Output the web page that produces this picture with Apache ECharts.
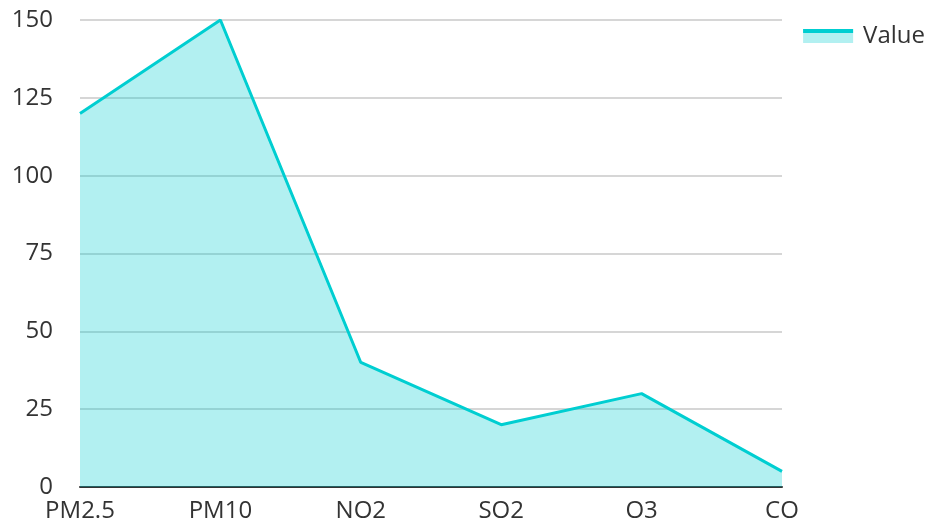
<!DOCTYPE html>
<html>
<head>
<meta charset="utf-8">
<script src="https://cdn.jsdelivr.net/npm/echarts@6/dist/echarts.min.js"></script>
<style>
  html, body { margin: 0; padding: 0; background: #fff; }
  #chart { width: 930px; height: 526px; }
</style>
</head>
<body>
<div id="chart"></div>
<script>
const pollutants = ['PM2.5', 'PM10', 'NO2', 'SO2', 'O3', 'CO'];
const values = [120, 150, 40, 20, 30, 5];

const chart = echarts.init(document.getElementById('chart'));
const lineColor = '#00CED1';
const areaColor = 'rgba(0,206,209,0.3)';

chart.setOption({
  animation: false,
  textStyle: { fontFamily: 'Open Sans' },
  legend: [{
    // area swatch + label
    right: 0,
    top: 19,
    itemWidth: 50,
    itemHeight: 14,
    icon: 'rect',
    itemStyle: { color: areaColor },
    textStyle: { fontSize: 24, color: '#333', padding: [0, 0, 8, 5] },
    data: ['Value']
  }, {
    // line stroke on top of the swatch
    right: 0,
    top: 14,
    itemWidth: 50,
    itemHeight: 4,
    icon: 'rect',
    itemStyle: { color: lineColor },
    textStyle: { fontSize: 24, color: 'rgba(0,0,0,0)', padding: [0, 0, 8, 5] },
    data: ['Value'],
    selectedMode: false
  }],
  grid: { left: 80, right: 148, top: 20, bottom: 39 },
  xAxis: {
    type: 'category',
    data: pollutants,
    boundaryGap: false,
    axisLine: { lineStyle: { color: '#333', width: 2 } },
    axisTick: { show: false },
    axisLabel: { fontSize: 24, color: '#333', margin: 12 }
  },
  yAxis: {
    type: 'value',
    min: 0,
    max: 150,
    interval: 25,
    axisLine: { show: false },
    axisTick: { show: false },
    axisLabel: { fontSize: 24, color: '#333', margin: 27 },
    splitLine: { lineStyle: { color: '#c8c8c8', width: 1.5 } }
  },
  series: [{
    name: 'Value',
    type: 'line',
    data: values,
    showSymbol: false,
    symbol: 'none',
    lineStyle: { color: lineColor, width: 3 },
    itemStyle: { color: lineColor },
    areaStyle: { color: lineColor, opacity: 0.3 }
  }]
});
</script>
</body>
</html>
